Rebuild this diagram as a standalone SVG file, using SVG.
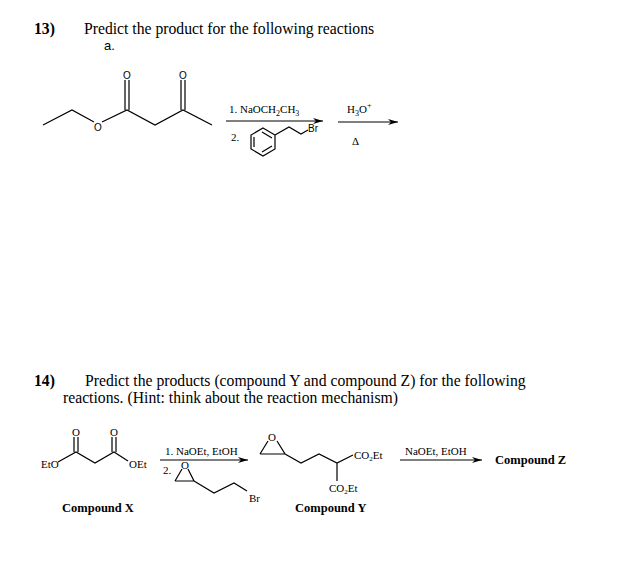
<svg xmlns="http://www.w3.org/2000/svg" width="628" height="566" viewBox="0 0 628 566">
<style>
.b{stroke:#000;stroke-width:1.2;fill:none}
.h{font-family:"Liberation Serif",serif;font-size:15.7px}
.c{font-family:"Liberation Serif",serif;font-size:11px}
.s{font-family:"Liberation Sans",sans-serif;font-size:10px}
.l{font-family:"Liberation Serif",serif;font-size:12.5px;font-weight:bold}
</style>
<defs><marker id="a" markerWidth="10" markerHeight="6" refX="10" refY="3" orient="auto" markerUnits="userSpaceOnUse"><path d="M0,0L10,3L0,6L3,3Z" fill="#000"/></marker></defs>
<rect width="628" height="566" fill="#fff"/>
<text class="h" x="34" y="34" font-weight="bold">13)</text>
<text class="h" x="84" y="34">Predict the product for the following reactions</text>
<text x="104" y="50" font-size="13" font-family="Liberation Sans,sans-serif">a.</text>
<g id="mol1">
<path class="b" d="M43,125L72,110L94,122M102,122L127,110L155,125L183,110L212,125M125,110V80M129,110V80M181,110V80M185,110V80"/>
<text class="s" x="94" y="131">O</text><text class="s" x="123" y="79">O</text><text class="s" x="179" y="79">O</text>
</g>
<g id="conn">
<line class="b" x1="226" y1="121" x2="323" y2="121" marker-end="url(#a)"/>
<line class="b" x1="338" y1="122" x2="398" y2="122" marker-end="url(#a)"/>
<line class="b" x1="160" y1="460" x2="248" y2="460" marker-end="url(#a)"/>
<line class="b" x1="400" y1="460" x2="482" y2="460" marker-end="url(#a)"/>
</g>
<g id="r1">
<text class="c" x="229" y="113">1. NaOCH<tspan font-size="8" dy="3">2</tspan><tspan dy="-3">CH</tspan><tspan font-size="8" dy="3">3</tspan></text>
<text class="c" x="231" y="141">2.</text>
<path class="b" d="M263,128L275,135V149L263,156L251,149V135Z M262,132L272,138M272,146L262,152M254,137V147M275,135L289,127L301,134L308,130"/>
<text class="s" x="308" y="132">Br</text>
<text class="c" x="347" y="113">H<tspan font-size="8" dy="3">3</tspan><tspan dy="-3">O</tspan><tspan font-size="8" dy="-5">+</tspan></text>
<text class="c" x="352" y="145">Δ</text>
</g>
<text class="h" x="34" y="386" font-weight="bold">14)</text>
<text class="h" x="85" y="386">Predict the products (compound Y and compound Z) for the following</text>
<text class="h" x="63" y="403">reactions. (Hint: think about the reaction mechanism)</text>
<g id="X">
<path class="b" d="M58,462L76,452L95,463L114,452L128,461M74,452V437M78,452V437M112,452V437M116,452V437"/>
<text class="c" x="41" y="468" font-size="10">EtO</text><text class="c" x="129" y="468" font-size="10">OEt</text>
<text class="c" x="72" y="436" font-size="10">O</text><text class="c" x="110" y="436" font-size="10">O</text>
<text class="l" x="62" y="512">Compound X</text>
</g>
<g id="r2">
<text class="c" x="165" y="455" font-size="10">1. NaOEt, EtOH</text>
<text class="c" x="163" y="474" font-size="10">2.</text>
<path class="b" d="M175,481L194,481L188,469M175,481L182,469M194,481L214,493L234,483L247,491"/>
<text class="c" x="181" y="469" font-size="10">O</text>
<text class="c" x="249" y="502" font-size="10">Br</text>
</g>
<g id="Y">
<path class="b" d="M260,454L285,454L277,441M260,454L268,441M285,454L301,463L319,454L337,463L353,455M337,463V481"/>
<text class="c" x="268" y="441" font-size="10">O</text>
<text class="c" x="354" y="459" font-size="10">CO<tspan font-size="7" dy="2">2</tspan><tspan dy="-2">Et</tspan></text>
<text class="c" x="329" y="492" font-size="10">CO<tspan font-size="7" dy="2">2</tspan><tspan dy="-2">Et</tspan></text>
<text class="l" x="295" y="512">Compound Y</text>
</g>
<text class="c" x="405" y="455" font-size="10">NaOEt, EtOH</text>
<g id="Z"><text class="l" x="495" y="464" font-size="13">Compound Z</text></g>
</svg>
